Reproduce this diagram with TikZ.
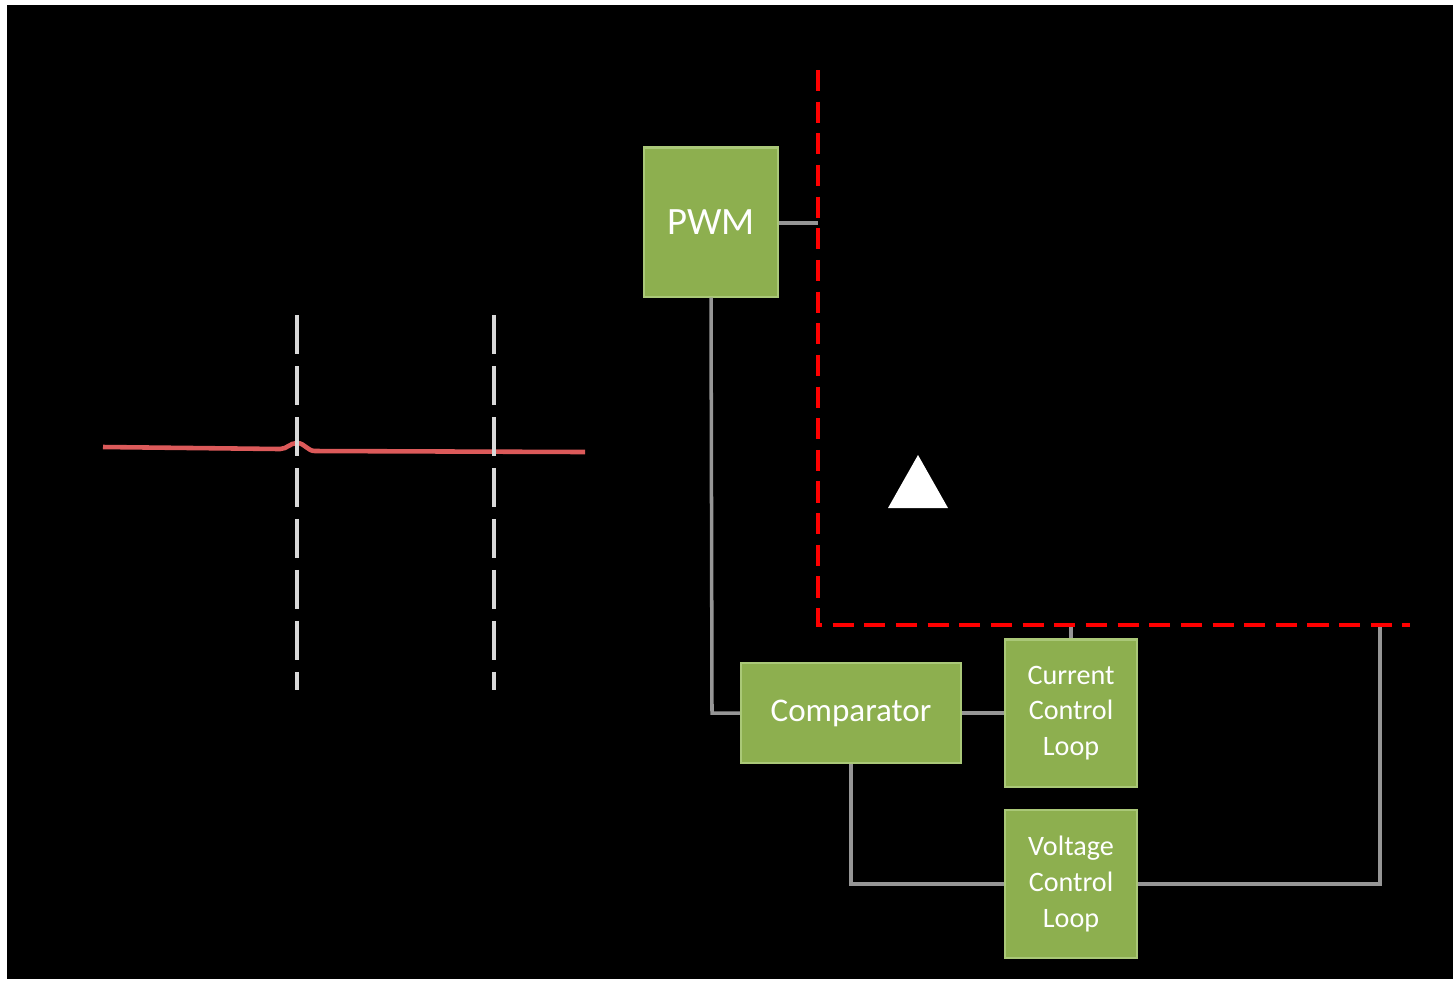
\documentclass[tikz,border=0pt]{standalone}
\usepackage{fontspec}
\setmainfont{Carlito}
\definecolor{gfill}{RGB}{141,175,79}
\definecolor{gedge}{RGB}{170,200,120}
\definecolor{wgray}{RGB}{150,150,150}
\definecolor{pinkred}{RGB}{220,90,90}
\begin{document}
\begin{tikzpicture}[x=0.01cm,y=-0.01cm,
 blk/.style={draw=gedge,line width=0.6pt,fill=gfill,text=white,font=\fontsize{8}{10.2}\selectfont,align=center,inner sep=0pt},
 wire/.style={draw=wgray,line width=1pt},
 wd/.style={draw=white!85!black,line width=1.3pt,dash pattern=on 11pt off 3.5pt}]
\useasboundingbox (0,0) rectangle (1455,996);
\fill[white] (0,0) rectangle (1455,996);
\fill[black] (7,5) rectangle (1453,979);
% left sketch
\draw[pinkred,line width=1.3pt] (103,447) -- (280,449) to[out=0,in=180] (297,443) to[out=0,in=180] (315,451) -- (585,452);
\draw[wd] (297,315) -- (297,690);
\draw[wd] (494,315) -- (494,690);
% blocks
\node[blk,minimum width=1.34cm,minimum height=1.49cm] (pwm) at (711,222) {\fontsize{11}{13}\selectfont PWM};
\node[blk,minimum width=2.2cm,minimum height=1.0cm] (cmp) at (851,713) {\fontsize{9.4}{11}\selectfont Comparator};
\node[blk,minimum width=1.32cm,minimum height=1.47cm] (cur) at (1071,713) {Current\\Control\\Loop};
\node[blk,minimum width=1.32cm,minimum height=1.48cm] (vol) at (1071,884) {Voltage\\Control\\Loop};
\coordinate (pr) at (818,223);
\coordinate (ct) at (1071,625);
\coordinate (vr) at (1380,625);
\draw[wire] (pwm.east |- pr) -- (pr);
\draw[wire] (pwm.south) -- (712,713) -- (cmp.west);
\draw[wire] (cmp.east) -- (cur.west);
\draw[wire] (cur.north) -- (ct);
\draw[wire] (cmp.south) -- (851,884) -- (vol.west);
\draw[wire] (vol.east) -- (1380,884) -- (vr);
\draw[red,line width=1.3pt,dash pattern=on 6pt off 3pt] (818,70) -- (818,625) -- (1410,625);
\fill[white] (888,508) -- (948,508) -- (918,455) -- cycle;
\end{tikzpicture}
\end{document}
